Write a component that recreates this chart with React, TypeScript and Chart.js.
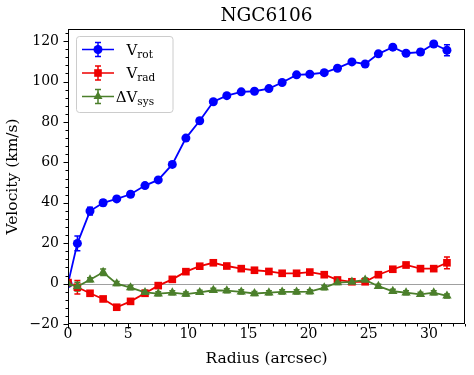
import React, { useEffect, useRef } from 'react';
import { Chart, registerables } from 'chart.js';

Chart.register(...registerables);

// ---- data ----
const radius = [0, 0.78, 1.83, 2.92, 4.05, 5.2, 6.4, 7.5, 8.67, 9.8, 10.95, 12.08, 13.2, 14.4, 15.5, 16.7, 17.8, 19.0, 20.1, 21.3, 22.4, 23.6, 24.7, 25.8, 27.0, 28.1, 29.3, 30.4, 31.5];
const vRot = [0, 19.9, 35.9, 40, 41.9, 44.2, 48.5, 51.3, 59, 72, 80.6, 90, 93, 94.9, 95.2, 96.5, 99.5, 103.3, 103.6, 104.4, 106.6, 109.7, 108.7, 113.7, 117, 114, 114.6, 118.6, 115.5];
const eRot = [0, 3.7, 1.9, 1.5, 1.2, 1.2, 1.0, 1.0, 1.0, 1.0, 1.0, 1.0, 1.0, 1.0, 1.0, 1.0, 1.0, 1.0, 1.0, 1.0, 1.0, 1.0, 1.0, 1.2, 1.2, 1.2, 1.2, 1.2, 2.7];
const vRad = [0.5, -1.8, -4.8, -7.6, -11.7, -8.8, -4.8, -1, 2.1, 5.9, 8.6, 10.3, 8.7, 7.4, 6.6, 6.0, 5.1, 5.1, 5.7, 4.4, 1.8, 0.9, 0.9, 4.4, 7.1, 9.2, 7.4, 7.4, 10.3];
const eRad = [0, 3.3, 1.0, 1.0, 1.0, 1.0, 1.0, 1.0, 1.0, 1.0, 1.0, 1.0, 1.0, 1.0, 1.0, 1.0, 1.0, 1.0, 1.0, 1.0, 1.0, 1.0, 1.0, 1.0, 1.2, 1.2, 1.2, 1.2, 2.9];
const vSys = [0, -1.5, 1.9, 5.6, 0, -2, -4.3, -5, -4.5, -5.2, -4.3, -3.3, -3.5, -4.1, -4.9, -4.5, -4.1, -4.1, -4, -2, 0.5, 0.8, 1.8, -1.3, -3.8, -4.5, -5.3, -4.5, -6.1];
const eSys = [0, 2.2, 1.0, 1.6, 1.0, 1.0, 1.0, 1.0, 1.0, 1.0, 1.0, 1.0, 1.0, 1.0, 1.0, 1.0, 1.0, 1.0, 1.0, 1.0, 1.0, 1.0, 1.0, 1.0, 1.0, 1.0, 1.0, 1.0, 1.0];

const xTicks = [0, 5, 10, 15, 20, 25, 30];
const yTicks = [-20, 0, 20, 40, 60, 80, 100, 120];
const xMinorStep = 1;
const yMinorStep = 4;
const xRange = [0, 33];
const yRange = [-20, 126];

const titleText = 'NGC6106';
const xLabel = 'Radius (arcsec)';
const yLabel = 'Velocity (km/s)';
const legendPrefix = ['', '', 'Δ'];
const legendMain = ['V', 'V', 'V'];
const legendSub = ['rot', 'rad', 'sys'];

const BLUE = '#0000ff';
const RED = '#ee0000';
const GREEN = '#4b7f2b';
const FONT = "'DejaVu Serif', serif";

const fmt = (v: number) => (v < 0 ? '\u2212' + Math.abs(v) : String(v));

function drawMarker(ctx: CanvasRenderingContext2D, style: string, x: number, y: number, color: string) {
  ctx.fillStyle = color;
  ctx.beginPath();
  if (style === 'circle') {
    ctx.arc(x, y, 4.5, 0, Math.PI * 2);
  } else if (style === 'rect') {
    ctx.rect(x - 3.8, y - 3.8, 7.6, 7.6);
  } else {
    const r = 5.2;
    ctx.moveTo(x, y - r);
    ctx.lineTo(x + r * 0.866, y + r * 0.5);
    ctx.lineTo(x - r * 0.866, y + r * 0.5);
    ctx.closePath();
  }
  ctx.fill();
}

const decor = {
  id: 'decor',
  beforeDatasetsDraw(chart: any) {
    const { ctx, chartArea: a, scales } = chart;
    const x = scales.x, y = scales.y;
    ctx.save();
    ctx.beginPath();
    ctx.rect(a.left, a.top, a.right - a.left, a.bottom - a.top);
    ctx.clip();
    // zero line
    const y0 = Math.round(y.getPixelForValue(0)) + 0.5;
    ctx.strokeStyle = '#a0a0a0';
    ctx.lineWidth = 1;
    ctx.beginPath();
    ctx.moveTo(a.left, y0);
    ctx.lineTo(a.right, y0);
    ctx.stroke();
    // error bars
    const sets = [...chart.data.datasets].sort((p: any, q: any) => q.order - p.order);
    sets.forEach((ds: any) => {
      ctx.strokeStyle = ds.borderColor;
      ctx.lineWidth = 1.5;
      ds.data.forEach((p: any, j: number) => {
        const e = ds.errors[j];
        if (!e) return;
        const px = x.getPixelForValue(p.x);
        const t = y.getPixelForValue(p.y + e);
        const b = y.getPixelForValue(p.y - e);
        ctx.beginPath();
        ctx.moveTo(px, t); ctx.lineTo(px, b);
        ctx.moveTo(px - 3, t); ctx.lineTo(px + 3, t);
        ctx.moveTo(px - 3, b); ctx.lineTo(px + 3, b);
        ctx.stroke();
      });
    });
    ctx.restore();
  },
  afterDraw(chart: any) {
    const { ctx, chartArea: a, scales } = chart;
    const x = scales.x, y = scales.y;
    ctx.save();
    // frame
    ctx.strokeStyle = '#000';
    ctx.lineWidth = 1;
    ctx.strokeRect(Math.round(a.left) + 0.5, Math.round(a.top) + 0.5, Math.round(a.right - a.left) - 1, Math.round(a.bottom - a.top) - 1);
    // ticks
    ctx.beginPath();
    const bottom = Math.round(a.bottom);
    for (let v = xRange[0]; v <= xRange[1] + 1e-9; v += xMinorStep) {
      const px = Math.round(x.getPixelForValue(v)) + 0.5;
      const len = xTicks.includes(v) ? 4.5 : 2.5;
      ctx.moveTo(px, bottom); ctx.lineTo(px, bottom + len);
    }
    const left = Math.round(a.left);
    for (let v = yRange[0]; v <= yRange[1] + 1e-9; v += yMinorStep) {
      const py = Math.round(y.getPixelForValue(v)) + 0.5;
      const len = yTicks.includes(v) ? 4.5 : 2.5;
      ctx.moveTo(left, py); ctx.lineTo(left - len, py);
    }
    ctx.stroke();
    // title
    ctx.fillStyle = '#000';
    ctx.font = `18.5px ${FONT}`;
    ctx.textAlign = 'center';
    ctx.textBaseline = 'alphabetic';
    ctx.fillText(titleText, (a.left + a.right) / 2, 21);
    // legend
    const lx = 76.5, ly = 36.5, lw = 96.5, lh = 76;
    ctx.beginPath();
    ctx.roundRect(lx, ly, lw, lh, 3);
    ctx.fillStyle = 'rgba(255,255,255,0.8)';
    ctx.fill();
    ctx.strokeStyle = '#cccccc';
    ctx.stroke();
    const sets = chart.data.datasets;
    sets.forEach((ds: any, i: number) => {
      const cy = 49.5 + i * 23.5;
      const mx = 98;
      ctx.strokeStyle = ds.borderColor;
      ctx.lineWidth = 1.5;
      ctx.beginPath();
      ctx.moveTo(82, cy); ctx.lineTo(114, cy);
      ctx.moveTo(mx, cy - 7); ctx.lineTo(mx, cy + 7);
      ctx.moveTo(mx - 3, cy - 7); ctx.lineTo(mx + 3, cy - 7);
      ctx.moveTo(mx - 3, cy + 7); ctx.lineTo(mx + 3, cy + 7);
      ctx.stroke();
      drawMarker(ctx, ds.pointStyle, mx, cy, ds.borderColor);
      ctx.fillStyle = '#000';
      ctx.textAlign = 'left';
      ctx.textBaseline = 'alphabetic';
      ctx.font = `15px ${FONT}`;
      let tx = 126.5;
      const base = cy + 5;
      const main = legendPrefix[i] + legendMain[i];
      if (legendPrefix[i]) tx -= ctx.measureText(legendPrefix[i]).width;
      ctx.fillText(main, tx, base);
      tx += ctx.measureText(main).width;
      ctx.font = `10.5px ${FONT}`;
      ctx.fillText(legendSub[i], tx, base + 3);
    });
    ctx.restore();
  },
};

export default function App() {
  const ref = useRef<HTMLCanvasElement | null>(null);
  useEffect(() => {
    document.body.style.margin = '0';
    const mk = (vals: number[]) => radius.map((r, i) => ({ x: r, y: vals[i] }));
    const base = {
      borderWidth: 1.8,
      pointRadius: 4.5,
      pointHoverRadius: 4.5,
      pointBorderWidth: 0,
      showLine: true,
      clip: 0,
      tension: 0,
    };
    const chart = new Chart(ref.current as HTMLCanvasElement, {
      type: 'scatter',
      data: {
        datasets: [
          { ...base, label: 'Vrot', data: mk(vRot), errors: eRot, borderColor: BLUE, backgroundColor: BLUE, pointStyle: 'circle', order: 3 } as any,
          { ...base, label: 'Vrad', data: mk(vRad), errors: eRad, borderColor: RED, backgroundColor: RED, pointStyle: 'rect', pointRadius: 5.4, order: 2 } as any,
          { ...base, label: 'ΔVsys', data: mk(vSys), errors: eSys, borderColor: GREEN, backgroundColor: GREEN, pointStyle: 'triangle', pointRadius: 5.4, order: 1 } as any,
        ],
      },
      options: {
        animation: false,
        responsive: false,
        devicePixelRatio: 1,
        layout: { padding: { top: 29, right: 9, left: 0, bottom: 0 } },
        plugins: { legend: { display: false }, tooltip: { enabled: false }, title: { display: false } },
        scales: {
          x: {
            type: 'linear',
            min: xRange[0],
            max: xRange[1],
            afterBuildTicks: (s: any) => { s.ticks = xTicks.map((v) => ({ value: v })); },
            afterFit: (s: any) => { s.height = 51; },
            grid: { display: false, drawTicks: false },
            border: { display: false },
            ticks: { font: { family: FONT, size: 14 }, color: '#000', padding: 2, maxRotation: 0, autoSkip: false, callback: (v: any) => fmt(Number(v)) },
            title: { display: true, text: xLabel, font: { family: FONT, size: 15.5 }, color: '#000', padding: 7 },
          },
          y: {
            type: 'linear',
            min: yRange[0],
            max: yRange[1],
            afterBuildTicks: (s: any) => { s.ticks = yTicks.map((v) => ({ value: v })); },
            afterFit: (s: any) => { s.width = 68; },
            grid: { display: false, drawTicks: false },
            border: { display: false },
            ticks: { font: { family: FONT, size: 14 }, color: '#000', padding: 9, autoSkip: false, callback: (v: any) => fmt(Number(v)) },
            title: { display: true, text: yLabel, font: { family: FONT, size: 15.5 }, color: '#000', padding: 4 },
          },
        },
      },
      plugins: [decor],
    } as any);
    return () => chart.destroy();
  }, []);
  return (
    <div style={{ width: 474, height: 375 }}>
      <canvas ref={ref} width={474} height={375} />
    </div>
  );
}
